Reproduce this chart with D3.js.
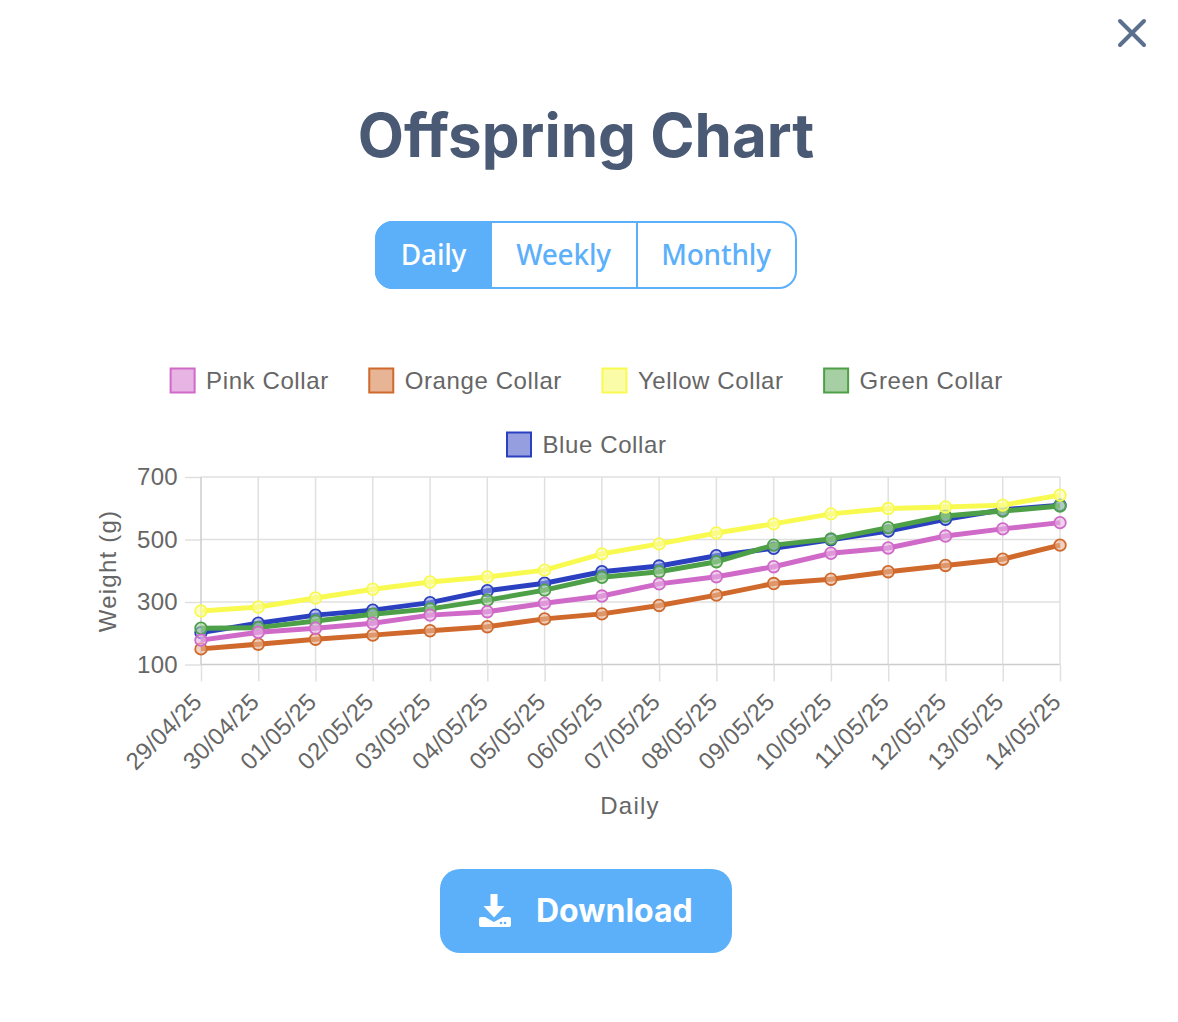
<!DOCTYPE html>
<html>
<head>
<meta charset="utf-8">
<title>Offspring Chart</title>
<script src="https://cdn.jsdelivr.net/npm/d3@7/dist/d3.min.js"></script>
<style>
  html, body { margin: 0; background: #fff; }
  svg { display: block; }
  text { font-family: "Liberation Sans", sans-serif; fill: #666; }
</style>
</head>
<body>
<div id="drawhere"></div>
<script>
const dates = ["29/04/25", "30/04/25", "01/05/25", "02/05/25", "03/05/25", "04/05/25", "05/05/25", "06/05/25",
  "07/05/25", "08/05/25", "09/05/25", "10/05/25", "11/05/25", "12/05/25", "13/05/25", "14/05/25"];
const yTicks = [100, 300, 500, 700];
const views = ["Daily", "Weekly", "Monthly"];

const pink = [178, 203, 216, 232, 258, 269, 296, 319, 358, 381, 413, 456, 473, 511, 534, 554];
const orange = [150, 165, 181, 194, 208, 221, 246, 262, 289, 322, 359, 373, 397, 417, 437, 482];
const yellow = [271, 284, 313, 341, 364, 380, 402, 454, 486, 521, 550, 582, 599, 604, 610, 642];
const green = [216, 218, 239, 261, 278, 306, 338, 379, 397, 429, 482, 502, 538, 575, 591, 607];
const blue = [202, 232, 258, 274, 298, 336, 360, 397, 415, 448, 472, 499, 527, 565, 595, 610];

const seriesNames = ["Pink Collar", "Orange Collar", "Yellow Collar", "Green Collar", "Blue Collar"];
const seriesValues = [pink, orange, yellow, green, blue];
const seriesColors = ["#d06ac8", "#d0692c", "#f8fa50", "#4ea048", "#2b40c0"];

const width = 1178, height = 1022;
const accent = "#5cb0fa";
const slate = "#4a5a75";

const svg = d3.select("#drawhere").append("svg").attr("width", width).attr("height", height);

// close icon
svg.append("path")
  .attr("d", d3.line()([[1120, 21], [1144, 45]]) + d3.line()([[1144, 21], [1120, 45]]))
  .attr("stroke", "#5b6f8f").attr("stroke-width", 4).attr("stroke-linecap", "round").attr("fill", "none");

// title
svg.append("text").attr("x", 586).attr("y", 156.5).attr("text-anchor", "middle")
  .style("font-family", "Inter").style("font-weight", 700).style("font-size", "60px").style("fill", slate)
  .style("font-variant-ligatures", "none").style("font-feature-settings", '"calt" 0, "liga" 0')
  .text("Offspring Chart");

// Daily / Weekly / Monthly toggle
const toggleEdges = [375, 492, 637, 797];
const toggle = svg.append("g");
toggle.append("path")
  .attr("d", "M492,221H393a18,18 0 0 0 -18,18V271a18,18 0 0 0 18,18H492Z")
  .attr("fill", accent);
toggle.append("rect").attr("x", 376).attr("y", 222).attr("width", 420).attr("height", 66).attr("rx", 17)
  .attr("fill", "none").attr("stroke", accent).attr("stroke-width", 2);
toggle.append("line").attr("x1", 637).attr("x2", 637).attr("y1", 222).attr("y2", 288)
  .attr("stroke", accent).attr("stroke-width", 2);
toggle.selectAll("text").data(views).join("text")
  .attr("x", (d, i) => (toggleEdges[i] + toggleEdges[i + 1]) / 2 + (i == 0 ? 0 : -1))
  .attr("y", 265).attr("text-anchor", "middle")
  .style("font-family", "Noto Sans").style("font-weight", 500).style("font-size", "28px")
  .style("letter-spacing", "-0.2px")
  .style("fill", (d, i) => i == 0 ? "#fff" : accent)
  .text(d => d);

// legend, two centred rows like the chart library lays it out
const legendRows = [[0, 1, 2, 3], [4]];
const legendCenter = 586;
legendRows.forEach(function (row, r) {
  const g = svg.append("g");
  const rowY = 380.5 + r * 64;
  const items = g.selectAll("g").data(row).join("g");
  items.append("rect").attr("x", 1).attr("y", rowY - 12).attr("width", 24).attr("height", 24)
    .attr("fill", i => seriesColors[i]).attr("fill-opacity", 0.5)
    .attr("stroke", i => seriesColors[i]).attr("stroke-width", 2);
  items.append("text").attr("x", 36.5).attr("y", rowY + 8.5)
    .style("font-size", "24px").style("letter-spacing", "0.6px")
    .text(i => seriesNames[i]);
  let x = 0;
  items.each(function () {
    const w = this.querySelector("text").getComputedTextLength() + 36;
    d3.select(this).attr("transform", `translate(${x},0)`);
    x += w + 40;
  });
  g.attr("transform", `translate(${legendCenter - (x - 40) / 2},0)`);
});

// chart
const margin = { left: 201, right: 1060, top: 477, bottom: 664.5 };
const x = d3.scalePoint().domain(dates).range([margin.left, margin.right]);
const y = d3.scaleLinear().domain([100, 700]).range([margin.bottom, margin.top]);

const gridColor = "#e0e0e0";
const yAxis = svg.append("g").attr("transform", `translate(${margin.left},0)`)
  .call(d3.axisLeft(y).tickValues(yTicks).tickSize(16).tickPadding(7));
const xAxis = svg.append("g").attr("transform", `translate(0,${margin.bottom})`)
  .call(d3.axisBottom(x).tickSize(17).tickPadding(2));
[yAxis, xAxis].forEach(function (a) {
  a.select(".domain").remove();
  a.selectAll("line").attr("stroke", gridColor).attr("stroke-width", 1.5);
  a.selectAll("text").style("font-size", "24px").style("fill", "#666").style("letter-spacing", "0.3px");
});

// grid
svg.append("g").selectAll("line").data(yTicks).join("line")
  .attr("x1", margin.left).attr("x2", margin.right)
  .attr("y1", d => y(d)).attr("y2", d => y(d))
  .attr("stroke", d => d == 100 ? "#cccccc" : gridColor).attr("stroke-width", 1.5);
svg.append("g").selectAll("line").data(dates).join("line")
  .attr("x1", d => x(d)).attr("x2", d => x(d))
  .attr("y1", margin.top).attr("y2", margin.bottom)
  .attr("stroke", (d, i) => i == 0 ? "#cccccc" : gridColor).attr("stroke-width", 1.5);

xAxis.selectAll("text")
  .attr("text-anchor", "end")
  .attr("dy", "0.35em").attr("y", 0).attr("x", 0)
  .attr("transform", "translate(-4,33) rotate(-45)");

// axis titles
svg.append("text").attr("transform", "translate(116,571) rotate(-90)").attr("text-anchor", "middle")
  .style("font-size", "24px").style("letter-spacing", "1.2px").text("Weight (g)");
svg.append("text").attr("x", 630).attr("y", 814).attr("text-anchor", "middle")
  .style("font-size", "24px").style("letter-spacing", "1.2px").text("Daily");

// series, first one ends up on top. The point fill is a pale tint so the line shows through lighter
const line = d3.line().x((d, i) => x(dates[i])).y(d => y(d));
const order = d3.range(seriesValues.length).reverse();
const plot = svg.append("g");
order.forEach(function (s) {
  const g = plot.append("g");
  g.append("path").datum(seriesValues[s]).attr("d", line)
    .attr("fill", "none").attr("stroke", seriesColors[s]).attr("stroke-width", 5);
  g.selectAll("circle").data(seriesValues[s]).join("circle")
    .attr("cx", (d, i) => x(dates[i])).attr("cy", d => y(d)).attr("r", 5.8)
    .attr("fill", d3.interpolateRgb(seriesColors[s], "#fff")(0.5)).attr("fill-opacity", 0.6)
    .attr("stroke", seriesColors[s]).attr("stroke-width", 1.8);
});

// download button
const dl = svg.append("g");
dl.append("rect").attr("x", 440).attr("y", 869).attr("width", 292).attr("height", 84).attr("rx", 20).attr("fill", accent);
dl.append("path").attr("fill", "#fff")
  .attr("d", "M490.500,894h7v12h7l-10.500,11.500l-10.500,-11.500h7Z");
dl.append("path").attr("fill", "#fff")
  .attr("d", "M479,919a2,2 0 0 1 2,-2h4l9,5l9,-5h6a2,2 0 0 1 2,2v6a2,2 0 0 1 -2,2h-28a2,2 0 0 1 -2,-2Z");
dl.append("circle").attr("cx", 501).attr("cy", 923).attr("r", 1.3).attr("fill", accent);
dl.append("circle").attr("cx", 505).attr("cy", 923).attr("r", 1.3).attr("fill", accent);
dl.append("text").attr("x", 536).attr("y", 922).style("font-family", "Inter").style("font-weight", 700)
  .style("font-size", "32px").style("fill", "#fff").text("Download");
</script>
</body>
</html>
